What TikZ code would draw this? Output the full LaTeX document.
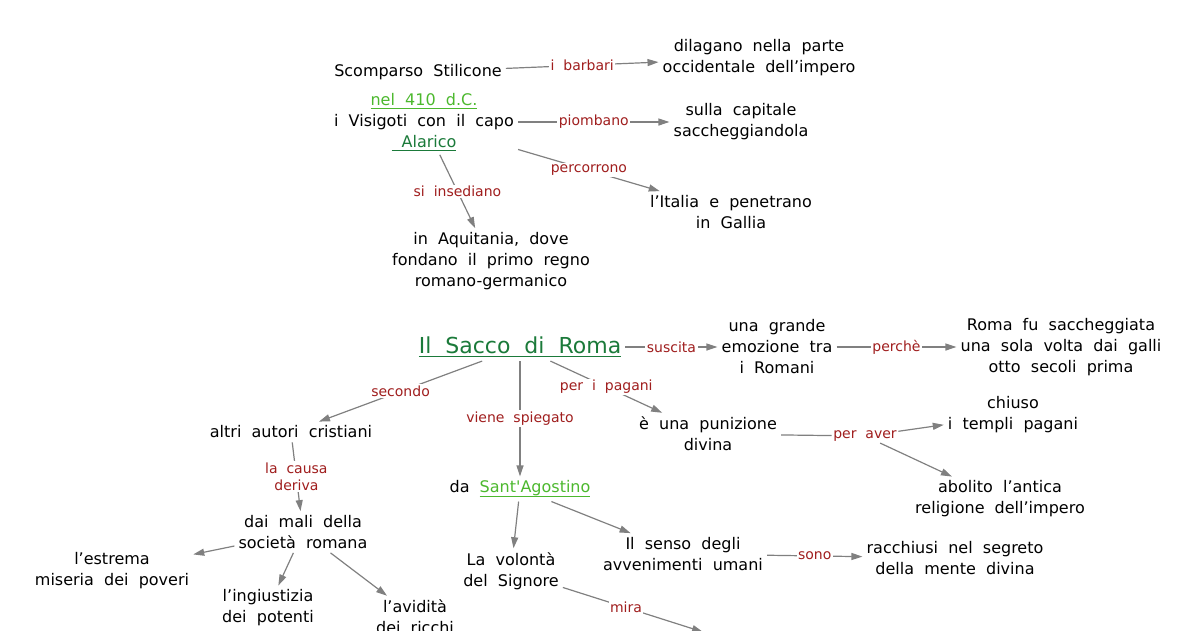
\documentclass[tikz,border=0pt]{standalone}
\usepackage{fontspec}
\setmainfont{DejaVu Sans}[WordSpace=2]
\usepackage{tikz}
\usetikzlibrary{arrows.meta}
\definecolor{linkred}{HTML}{A01E1E}
\definecolor{lightgr}{HTML}{4CB82E}
\definecolor{darkgr}{HTML}{1B7A3A}
\definecolor{arrgray}{HTML}{808080}
\newsavebox{\ulbox}
\newcommand{\uln}[2][3pt]{\sbox{\ulbox}{#2}\rlap{\rule[-#1]{\wd\ulbox}{1pt}}\usebox{\ulbox}}

\begin{document}
\begin{tikzpicture}[x=1pt, y=-1pt,
  concept/.style={align=center, font=\fontsize{16}{21}\selectfont, inner sep=4pt},
  link/.style={font=\fontsize{14}{17}\selectfont, text=linkred, fill=white,
    inner sep=1.5pt, align=center},
  arr/.style={-{Triangle[length=11pt,width=7pt]}, line width=1.2pt, arrgray},
  plain/.style={line width=1.2pt, arrgray},
]
\path[use as bounding box] (0,0) rectangle (1200,630);
\clip (0,0) rectangle (1200,630);

% Visigoti
\node[concept] (stilicone) at (418,72) {Scomparso Stilicone};
\node[concept] (dilagano)  at (759,58) {dilagano nella parte\\occidentale dell’impero};
\node[concept] (visigoti)  at (424,122) {\textcolor{lightgr}{\uln{nel 410 d.C.}}\\
  i Visigoti con il capo\\\textcolor{darkgr}{\uln{ Alarico}}};
\node[concept] (capitale)  at (741,122) {sulla capitale\\saccheggiandola};
\node[concept] (italia)    at (731,212) {l’Italia e penetrano\\in Gallia};
\node[concept] (aquitania) at (491,261) {in Aquitania, dove\\fondano il primo regno\\romano-germanico};

\draw[arr] (stilicone) -- node[link] {i barbari} (dilagano);
\draw[arr] (visigoti) -- node[link] {piombano} (capitale);
\draw[arr] (visigoti) -- node[link] {percorrono} (italia);
\draw[arr] (visigoti) -- node[link] {si insediano} (aquitania);

% Il Sacco di Roma
\node[concept, font=\fontsize{22}{26}\selectfont, text=darkgr] (sacco) at (520,347)
  {\uln{Il Sacco di Roma}};
\node[concept] (emozione)  at (777,347) {una grande\\emozione tra\\i Romani};
\node[concept] (galli)     at (1061,347) {Roma fu saccheggiata\\una sola volta dai galli\\otto secoli prima};
\node[concept] (autori)    at (291,432) {altri autori cristiani};
\node[concept] (punizione) at (708,434) {è una punizione\\divina};
\node[concept] (chiuso)    at (1013,415) {chiuso\\i templi pagani};
\node[concept] (abolito)   at (1000,499) {abolito l’antica\\religione dell’impero};
\node[concept] (agostino)  at (520,489) {da \textcolor{lightgr}{\uln[4.5pt]{Sant\textquotesingle Agostino}}};

\draw[arr] (sacco) -- node[link] {suscita} (emozione);
\draw[arr] (emozione) -- node[link] {perchè} (galli);
\draw[arr] (sacco) -- node[link] {secondo} (autori);
\draw[arr] (sacco) -- node[link] {viene spiegato} (agostino);
\draw[arr] (sacco) -- node[link] {per i pagani} (punizione);

\node[link] (peraver) at (865,436) {per aver};
\draw[plain] (punizione) -- (peraver);
\draw[arr] (peraver) -- (chiuso);
\draw[arr] (peraver) -- (abolito);

% cause
\node[concept] (mali)      at (303,532) {dai mali della\\società romana};
\node[concept] (estrema)   at (112,571) {l’estrema\\miseria dei poveri};
\node[concept] (ingiust)   at (268,608) {l’ingiustizia\\dei potenti};
\node[concept] (avidita)   at (415,617) {l’avidità\\dei ricchi};

\draw[arr] (autori) -- node[link] {la causa\\deriva} (mali);
\draw[arr] (mali) -- (estrema);
\draw[arr] (mali) -- (ingiust);
\draw[arr] (mali) -- (avidita);

% Sant'Agostino
\node[concept] (volonta)   at (511,571) {La volontà\\del Signore};
\node[concept] (senso)     at (683,554) {Il senso degli\\avvenimenti umani};
\node[concept] (segreto)   at (955,558) {racchiusi nel segreto\\della mente divina};
\coordinate (mirafine) at (703,632);

\draw[arr] (agostino) -- (volonta);
\draw[arr] (agostino) -- (senso);
\draw[arr] (senso) -- node[link] {sono} (segreto);
\draw[arr] (volonta) -- node[link, pos=0.45] {mira} (mirafine);
\end{tikzpicture}
\end{document}
